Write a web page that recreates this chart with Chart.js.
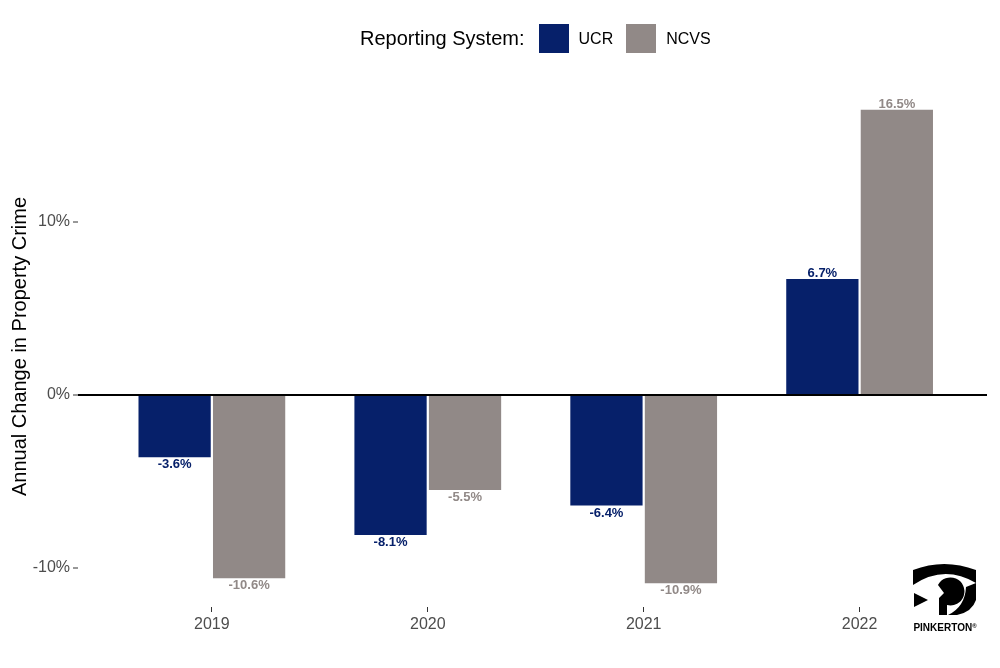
<!DOCTYPE html>
<html>
<head>
<meta charset="utf-8">
<script src="https://cdn.jsdelivr.net/npm/chart.js@4"></script>
<style>
  html, body { margin:0; padding:0; background:#fff; }
  body { width:1000px; height:668px; position:relative; overflow:hidden; font-family:"Liberation Sans", Arial, sans-serif; }
  #wrap { position:absolute; left:0; top:0; width:1000px; height:668px; }
  #legend { position:absolute; top:24px; left:360px; display:flex; align-items:center; height:29px; }
  #legend .ttl { font-size:20px; color:#000; margin-right:14px; }
  #legend .sw { width:30px; height:29px; margin-right:10px; }
  #legend .lab { font-size:16px; color:#000; margin-right:13px; }
  #logo { position:absolute; left:900px; top:550px; width:90px; height:90px; }
</style>
</head>
<body>
<div id="wrap"><canvas id="chart" width="1000" height="668"></canvas></div>
<div id="legend"></div>
<svg id="logo" viewBox="0 0 90 90">
  <!-- upper lid band -->
  <path d="M13 35 L13 20 Q44 8 76 20 L76 33 Q44 14 13 35 Z" fill="#000"/>
  <!-- right / lower band -->
  <path d="M76 33 L76 50 Q72 62 57 65 L48 65 Q65 57 66 37 Z" fill="#000"/>
  <!-- left wedge -->
  <path d="M14 43 L14 57 L28 50 Z" fill="#000"/>
  <!-- pupil -->
  <path d="M38 35 A14 14 0 1 1 47 55 L47 65 L39 65 L39 48 L44 43 Z" fill="#000"/>
  <text x="45" y="81" text-anchor="middle" font-family="Liberation Sans, Arial, sans-serif" font-weight="bold" font-size="10" fill="#000">PINKERTON<tspan font-size="6" dy="-3">®</tspan></text>
</svg>
<script>
const years = ['2019', '2020', '2021', '2022'];
const ucr = [-3.6, -8.1, -6.4, 6.7];
const ncvs = [-10.6, -5.5, -10.9, 16.5];
const seriesNames = ['UCR', 'NCVS'];
const seriesColors = ['#06206a', '#918987'];
const yTicks = [-10, 0, 10];

// legend (html, built from the series arrays)
const legendEl = document.getElementById('legend');
legendEl.innerHTML = '<span class="ttl">Reporting System:</span>' + seriesNames.map((n, i) =>
  `<span class="sw" style="background:${seriesColors[i]}"></span><span class="lab">${n}</span>`).join('');

const toPoints = arr => arr.map((v, i) => ({ x: i, y: v }));

const valueLabels = {
  id: 'valueLabels',
  afterDatasetsDraw(chart) {
    const ctx = chart.ctx;
    ctx.save();
    ctx.font = 'bold 13px "Liberation Sans", Arial, sans-serif';
    ctx.textAlign = 'center';
    chart.data.datasets.forEach((ds, di) => {
      const meta = chart.getDatasetMeta(di);
      meta.data.forEach((bar, i) => {
        const v = ds.data[i].y;
        ctx.fillStyle = seriesColors[di];
        if (v >= 0) { ctx.textBaseline = 'bottom'; ctx.fillText(v.toFixed(1) + '%', bar.x, bar.y + 1); }
        else { ctx.textBaseline = 'top'; ctx.fillText(v.toFixed(1) + '%', bar.x, bar.y + 1); }
      });
    });
    ctx.restore();
  }
};

new Chart(document.getElementById('chart'), {
  type: 'bar',
  data: {
    datasets: [
      { label: seriesNames[0], data: toPoints(ucr), backgroundColor: seriesColors[0] },
      { label: seriesNames[1], data: toPoints(ncvs), backgroundColor: seriesColors[1] }
    ]
  },
  options: {
    responsive: false,
    animation: false,
    devicePixelRatio: 1,
    categoryPercentage: 0.69,
    barPercentage: 0.97,
    layout: { padding: { top: 86, right: 13, left: 0, bottom: 0 } },
    plugins: { legend: { display: false }, tooltip: { enabled: false } },
    scales: {
      x: {
        type: 'linear',
        offset: false,
        min: -0.62, max: 3.59,
        afterBuildTicks: s => { s.ticks = years.map((_, i) => ({ value: i })); },
        afterFit: s => { s.height = 61; },
        border: { display: false },
        grid: { offset: false, drawOnChartArea: false, drawTicks: true, tickLength: 5, tickColor: '#333' },
        ticks: { callback: v => years[v], color: '#4d4d4d', font: { size: 16, family: '"Liberation Sans", Arial, sans-serif' }, padding: 3, maxRotation: 0 }
      },
      y: {
        min: -12.27, max: 17.87,
        afterBuildTicks: s => { s.ticks = yTicks.map(v => ({ value: v })); },
        afterFit: s => { s.width = 78; },
        border: { display: false },
        grid: {
          drawOnChartArea: true, drawTicks: true, tickLength: 5,
          color: c => c.tick && c.tick.value === 0 ? '#000' : 'rgba(0,0,0,0)',
          lineWidth: c => c.tick && c.tick.value === 0 ? 2 : 0,
          tickColor: '#333', tickWidth: 1
        },
        ticks: { callback: v => v + '%', color: '#4d4d4d', font: { size: 16, family: '"Liberation Sans", Arial, sans-serif' }, padding: 3 },
        title: { display: true, text: 'Annual Change in Property Crime', color: '#000', font: { size: 20, family: '"Liberation Sans", Arial, sans-serif' }, padding: { top: 8, bottom: 4 } }
      }
    }
  },
  plugins: [valueLabels]
});
</script>
</body>
</html>
